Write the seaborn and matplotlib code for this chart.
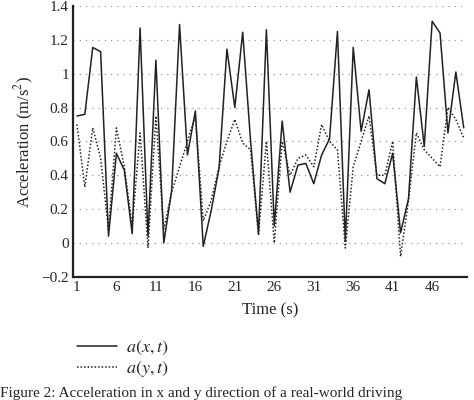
import matplotlib
matplotlib.use("Agg")
import matplotlib.pyplot as plt
import seaborn as sns
import pandas as pd

# time steps 1..50
t = list(range(1, 51))
acc_x = [0.75, 0.76, 1.155, 1.13, 0.04, 0.53, 0.43, 0.055, 1.27, 0.04,
         1.08, 0.0, 0.31, 1.29, 0.52, 0.78, -0.02, 0.19, 0.44, 1.145,
         0.80, 1.245, 0.60, 0.055, 1.26, 0.10, 0.72, 0.30, 0.46, 0.47,
         0.35, 0.52, 0.615, 1.25, 0.01, 1.155, 0.66, 0.905, 0.38, 0.35,
         0.53, 0.06, 0.26, 0.98, 0.57, 1.31, 1.24, 0.65, 1.01, 0.68]
acc_y = [0.70, 0.33, 0.68, 0.50, 0.08, 0.68, 0.45, 0.10, 0.65, -0.03,
         0.75, 0.08, 0.30, 0.45, 0.60, 0.75, 0.13, 0.25, 0.45, 0.60,
         0.73, 0.59, 0.55, 0.05, 0.60, 0.00, 0.60, 0.40, 0.50, 0.52,
         0.45, 0.70, 0.60, 0.55, -0.03, 0.45, 0.60, 0.75, 0.40, 0.40,
         0.60, -0.08, 0.25, 0.65, 0.55, 0.50, 0.45, 0.80, 0.73, 0.62]
xticks = [1, 6, 11, 16, 21, 26, 31, 36, 41, 46]
yticks = [-0.2, 0, 0.2, 0.4, 0.6, 0.8, 1, 1.2, 1.4]
ytick_labels = ["\u22120.2", "0", "0.2", "0.4", "0.6", "0.8", "1", "1.2", "1.4"]

sns.set_style("white")
plt.rcParams['font.family'] = ['Liberation Serif', 'DejaVu Serif']
plt.rcParams['mathtext.fontset'] = 'stix'

df = pd.DataFrame({"t": t, "ax": acc_x, "ay": acc_y})

fig = plt.figure(figsize=(4.74, 4.0), dpi=100)
ax = fig.add_axes([0.154, 0.308, 0.831, 0.677])
for v in yticks[1:]:
    ax.axhline(v, color="#999999", lw=0.9, ls=(0, (1, 4)), zorder=0)
sns.lineplot(data=df, x="t", y="ax", ax=ax, color="#222222", lw=1.1, label=r"$a(x,t)$")
sns.lineplot(data=df, x="t", y="ay", ax=ax, color="#222222", lw=1.1, ls=(0, (1, 1.3)), label=r"$a(y,t)$")

ax.set_xlim(0.5, 50.4)
ax.set_ylim(-0.2, 1.4)
ax.set_xticks(xticks)
ax.set_yticks(yticks)
ax.set_yticklabels(ytick_labels)
ax.tick_params(labelsize=11, length=0, pad=3)
ax.set_xlabel("Time (s)", fontsize=12, labelpad=6)
ax.set_ylabel("Acceleration (m/s$^2$)", fontsize=12)
sns.despine(ax=ax, top=True, right=True)
for s in ["left", "bottom"]:
    ax.spines[s].set_color("#222222")
    ax.spines[s].set_linewidth(1.6)

ax.legend(loc="upper left", bbox_to_anchor=(-0.03, -0.17), frameon=False,
          fontsize=13, handlelength=2.2, handletextpad=0.5, labelspacing=0.1)
fig.text(0.0, 0.0, "Figure 2: Acceleration in x and y direction of a real-world driving",
         fontsize=11, va="bottom", ha="left")

fig.savefig("out.png", dpi=100)
